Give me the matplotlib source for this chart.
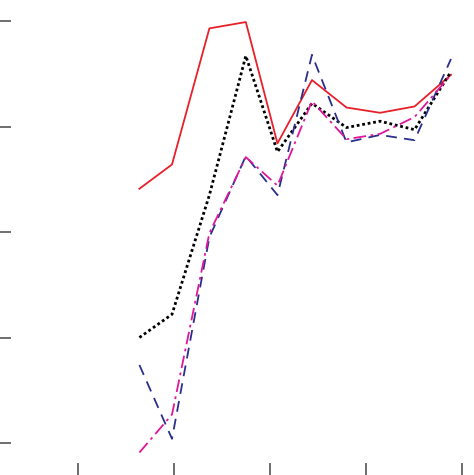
import numpy as np
import matplotlib.pyplot as plt

# x positions of the samples (same units as the bottom ticks)
x = [6.4, 9.8, 13.7, 17.5, 20.8, 24.4, 28.0, 31.5, 35.1, 38.9]

red_solid = [2.41, 2.64, 3.93, 3.99, 2.84, 3.44, 3.18, 3.13, 3.19, 3.49]
black_dotted = [1.00, 1.22, 2.35, 3.67, 2.76, 3.22, 2.99, 3.05, 2.97, 3.52]
blue_dashed = [0.74, 0.04, 1.95, 2.72, 2.35, 3.68, 2.85, 2.92, 2.87, 3.64]
magenta_dashdot = [-0.09, 0.27, 1.99, 2.71, 2.44, 3.24, 2.88, 2.93, 3.09, 3.49]

xticks = [0, 10, 20, 30, 40]
yticks = [0, 1, 2, 3, 4]

fig = plt.figure(figsize=(4.74, 4.75), dpi=100)
ax = fig.add_axes([0, 0, 1, 1])

ax.plot(x, red_solid, color='#e8202a', lw=1.3, ls='-')
ax.plot(x, black_dotted, color='black', lw=2.0, ls=(0, (1, 1)))
ax.plot(x, blue_dashed, color='#2b2f8c', lw=1.3, ls=(0, (6, 4)))
ax.plot(x, magenta_dashdot, color='#e0179b', lw=1.3, ls=(0, (7, 2.5, 1.5, 2.5)))

ax.set_xlim(-8.14, 41.3)
ax.set_ylim(-0.303, 4.199)
ax.set_xticks(xticks)
ax.set_yticks(yticks)
ax.set_xticklabels([])
ax.set_yticklabels([])
ax.tick_params(axis='x', direction='in', length=9, width=1.2, color='#555555')
ax.tick_params(axis='y', direction='in', length=8, width=1.2, color='#555555')
for s in ax.spines.values():
    s.set_visible(False)

fig.savefig('out.png', dpi=100)
